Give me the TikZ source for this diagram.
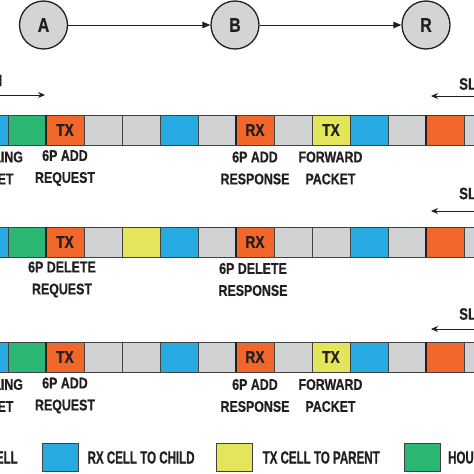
\documentclass[tikz,border=0pt]{standalone}
\usepackage{fontspec}
\setmainfont{Liberation Sans}
\newfontfamily\condfont[FakeStretch=0.8,BoldFeatures={FakeBold=0.6}]{Liberation Sans}
\newfontfamily\legfont[FakeStretch=0.66,BoldFeatures={FakeBold=0.6}]{Liberation Sans}
\usetikzlibrary{arrows.meta,positioning}
\definecolor{ink}{RGB}{35,31,32}
\definecolor{nodegrey}{RGB}{212,212,214}
\definecolor{cellgrey}{RGB}{209,210,212}
\definecolor{rxblue}{RGB}{39,170,225}
\definecolor{hkgreen}{RGB}{43,182,115}
\definecolor{sforange}{RGB}{241,103,41}
\definecolor{txyellow}{RGB}{228,229,90}

\def\xo{-30}
\def\cw{38}
\def\ch{30}
% one row of cells: #1 row id, #2 top edge, #3 colour/label list
\newcommand{\cellrow}[3]{%
  \foreach \col/\lab [count=\i from 0] in {#3}{
     \node[cell,fill=\col] (c#1-\i) at ({\xo+\cw*\i+\cw/2},{#2+\ch/2}) {\lab};
  }
  \foreach \bx in {46,236,426}{
     \draw[sfedge] (\bx,#2) -- (\bx,{#2+\ch});
  }
}

\begin{document}
\begin{tikzpicture}[x=1pt,y=-1pt,
  mote/.style={circle,draw=ink,line width=1.3pt,fill=nodegrey,minimum size=48pt,
     inner sep=0pt,text=ink,font=\condfont\bfseries\fontsize{20}{20}\selectfont},
  hop/.style={-{Triangle[length=8pt,width=6.5pt]},line width=1pt,ink},
  cell/.style={draw=ink!85,line width=0.9pt,minimum width=38pt,minimum height=30pt,
     inner sep=0pt,text=ink,font=\condfont\bfseries\fontsize{17}{17}\selectfont},
  sfedge/.style={line width=2.6pt,ink},
  celllabel/.style={align=center,text=ink,inner sep=0pt,
     font=\condfont\bfseries\fontsize{15.5}{22}\selectfont},
  sfname/.style={text=ink,inner sep=0pt,font=\condfont\bfseries\fontsize{16.5}{18}\selectfont},
  timeline/.style={-{Stealth[length=7pt,width=6pt]},line width=0.9pt,ink},
  keybox/.style={draw=ink!85,line width=0.9pt,minimum width=36pt,minimum height=28pt,inner sep=0pt},
  keytext/.style={text=ink,inner sep=0pt,font=\legfont\bfseries\fontsize{17.5}{18}\selectfont}]
  \useasboundingbox (0,0) rectangle (474,474);
  \clip (0,0) rectangle (474,474);
  \fill[white] (0,0) rectangle (474,474);

  % motes
  \node[mote] (A) at (43.5,25) {A};
  \node[mote] (B) at (235,25) {B};
  \node[mote] (R) at (426,25) {R};
  \draw[hop] (A) -- (B);
  \draw[hop] (B) -- (R);

  % slotframe names and time arrows
  \node[sfname,anchor=east] (sf0) at (2.5,80.5) {SLOTFRAME N};
  \coordinate (t0s) at (-5,95);
  \coordinate (t0e) at (45,95);
  \draw[timeline] (t0s) -- (t0e);
  \foreach \r/\ny/\ay in {1/84/96, 2/193.5/211, 3/314/329}{
     \node[sfname,anchor=west] (sf\r) at (459,\ny) {SLOTFRAME N+1};
     \coordinate (t\r s) at (480,\ay);
     \coordinate (t\r e) at (431,\ay);
     \draw[timeline] (t\r s) -- (t\r e);
  }

  % cells
  \cellrow{1}{115}{rxblue/{},hkgreen/{},sforange/TX,cellgrey/{},cellgrey/{},rxblue/{},cellgrey/{},
     sforange/RX,cellgrey/{},txyellow/TX,rxblue/{},cellgrey/{},sforange/{},cellgrey/{}}
  \cellrow{2}{227}{rxblue/{},hkgreen/{},sforange/TX,cellgrey/{},txyellow/{},rxblue/{},cellgrey/{},
     sforange/RX,cellgrey/{},cellgrey/{},rxblue/{},cellgrey/{},sforange/{},cellgrey/{}}
  \cellrow{3}{342}{rxblue/{},hkgreen/{},sforange/TX,cellgrey/{},cellgrey/{},rxblue/{},cellgrey/{},
     sforange/RX,cellgrey/{},txyellow/TX,rxblue/{},cellgrey/{},sforange/{},cellgrey/{}}

  % cell labels
  \foreach \r/\ly in {1/168, 3/395.5}{
     \node[celllabel] (l\r hk) at (-11.5,\ly) {SIGNALING\\PACKET};
     \node[celllabel] (l\r tx) at (65,\ly) {6P ADD\\REQUEST};
     \node[celllabel] (l\r rx) at (255,\ly) {6P ADD\\RESPONSE};
     \node[celllabel] (l\r fw) at (330.5,\ly) {FORWARD\\PACKET};
  }
  \node[celllabel] (l2tx) at (62,279.5) {6P DELETE\\REQUEST};
  \node[celllabel] (l2rx) at (253,279.5) {6P DELETE\\RESPONSE};

  % legend
  \node[keytext,anchor=east] (tshared) at (18,457.5) {SHARED CELL};
  \node[keybox,fill=rxblue] (kblue) at (60,457.5) {};
  \node[keytext,right=9pt of kblue] (tblue) {RX CELL TO CHILD};
  \node[keybox,fill=txyellow] (kyellow) at (234,457.5) {};
  \node[keytext,right=10pt of kyellow] (tyellow) {TX CELL TO PARENT};
  \node[keybox,fill=hkgreen] (kgreen) at (422.5,457.5) {};
  \node[keytext,right=7pt of kgreen] (tgreen) {HOUSEKEEPING CELL};
\end{tikzpicture}
\end{document}
